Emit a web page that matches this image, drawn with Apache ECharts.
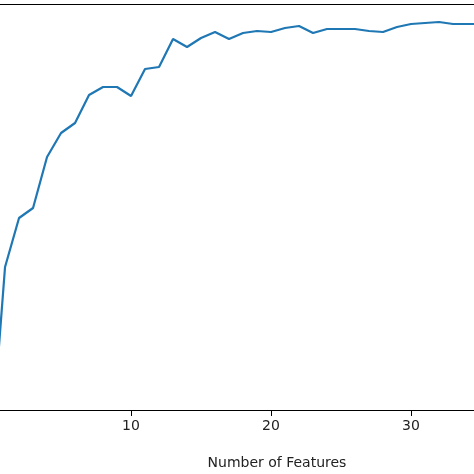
<!DOCTYPE html>
<html>
<head>
<meta charset="utf-8">
<script src="https://cdn.jsdelivr.net/npm/echarts@6/dist/echarts.min.js"></script>
<style>html,body{margin:0;padding:0;background:#fff}#main{width:474px;height:474px}</style>
</head>
<body>
<div id="main"></div>
<script>
// 特征数量 与 得分
let features = [0, 1, 2, 3, 4, 5, 6, 7, 8, 9, 10, 11, 12, 13, 14, 15, 16, 17, 18, 19, 20, 21, 22, 23, 24, 25, 26, 27, 28, 29, 30, 31, 32, 33, 34, 35];
let scores = [-40, 143, 192, 202, 253, 277, 287, 315, 323, 323, 314, 341, 343, 371, 363, 372, 378, 371, 377, 379, 378, 382, 384, 377, 381, 381, 381, 379, 378, 383, 386, 387, 388, 386, 386, 386];
let xTicks = [10, 20, 30];

let dataArr = features.map((f, i) => [f, scores[i]]);
let myChart = echarts.init(document.getElementById('main'));
let option = {
  animation: false,
  grid: { left: 0, right: 0, top: 4, bottom: 64, containLabel: false, outerBoundsMode: 'none' },
  xAxis: [
    {
      type: 'value', min: 0.64, max: 34.5,
      splitLine: { show: false },
      axisLine: { lineStyle: { color: '#000', width: 1.2 } },
      axisTick: { length: 6, lineStyle: { color: '#000' }, customValues: xTicks },
      axisLabel: {
        color: '#222', fontSize: 14, fontFamily: 'DejaVu Sans', margin: 9,
        customValues: xTicks
      }
    },
    {
      type: 'value', position: 'top', min: 0.64, max: 34.5,
      axisLine: { show: true, lineStyle: { color: '#000', width: 1.2 } },
      axisTick: { show: false }, axisLabel: { show: false }, splitLine: { show: false }
    }
  ],
  yAxis: { type: 'value', min: 0, max: 406, show: false },
  graphic: [{
    type: 'text', x: 277, y: 463,
    style: { text: 'Number of Features', fontSize: 14, fontFamily: 'DejaVu Sans', fill: '#222', textAlign: 'center', textVerticalAlign: 'middle' }
  }],
  series: [{
    type: 'line', data: dataArr, showSymbol: false, clip: true,
    lineStyle: { color: '#1f77b4', width: 2.2 }
  }]
};
myChart.setOption(option);
</script>
</body>
</html>
